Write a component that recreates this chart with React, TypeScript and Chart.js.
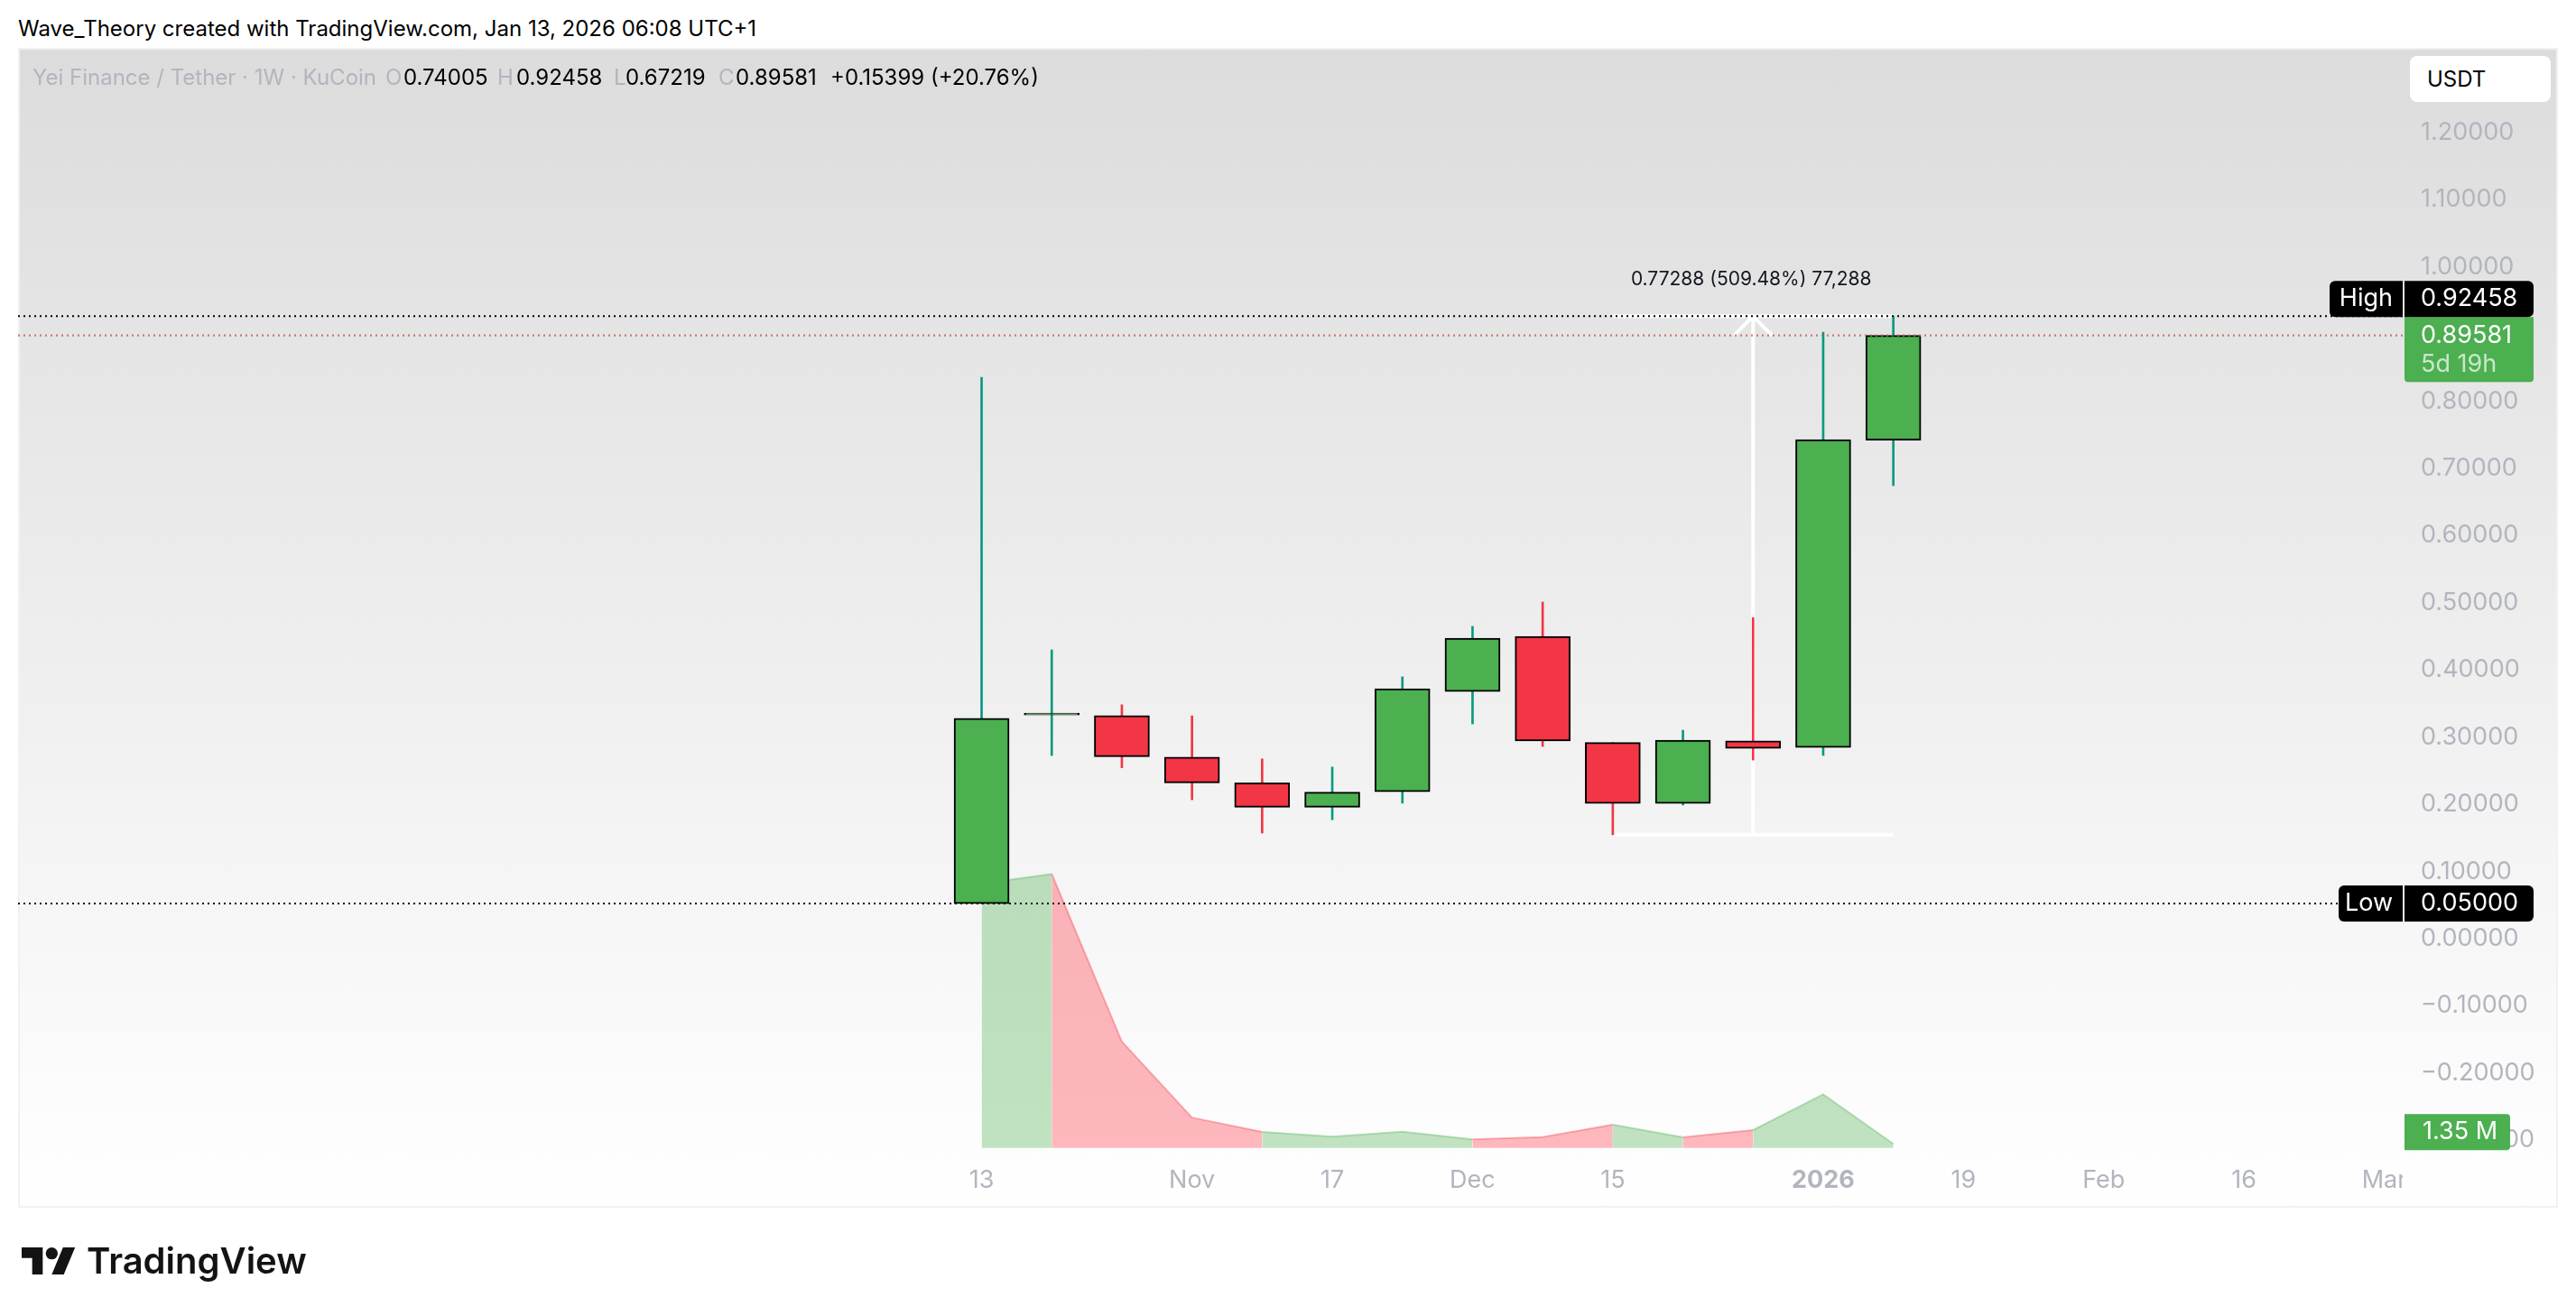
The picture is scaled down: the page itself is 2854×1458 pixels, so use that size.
import { useEffect, useRef } from "react";
import { Chart, registerables } from "chart.js";

Chart.register(...registerables);

const FONT = "Inter, 'Noto Sans', sans-serif";

// weekly candles, left to right
const opens = [0.05, 0.3308, 0.33, 0.268, 0.2298, 0.1935, 0.2166, 0.3658, 0.4478, 0.2899, 0.1992, 0.2922, 0.2825, 0.74005];
const highs = [0.8334, 0.4277, 0.346, 0.3295, 0.2654, 0.2533, 0.3876, 0.4627, 0.4989, 0.2899, 0.3081, 0.4757, 0.9006, 0.92458];
const lows = [0.05, 0.2705, 0.2522, 0.2046, 0.155, 0.1748, 0.1995, 0.3175, 0.2839, 0.1525, 0.1967, 0.2637, 0.2707, 0.67219];
const closes = [0.326, 0.3315, 0.2686, 0.2298, 0.1935, 0.2159, 0.37, 0.4451, 0.292, 0.1991, 0.2934, 0.2812, 0.7408, 0.89581];
// volume in millions
const volumes = [89.8, 93.1, 36.1, 10.3, 5.43, 3.8, 5.52, 2.88, 3.68, 7.88, 3.59, 6.04, 18.2, 1.35];

const priceTicks = [1.2, 1.1, 1.0, 0.9, 0.8, 0.7, 0.6, 0.5, 0.4, 0.3, 0.2, 0.1, 0, -0.1, -0.2, -0.3];
const timeTicks = [0, 3, 5, 7, 9, 12, 14, 16, 18, 20];
const timeLabels = ["13", "Nov", "17", "Dec", "15", "2026", "19", "Feb", "16", "Mar"];

const HIGH = 0.92458;
const LOW = 0.05;
const LAST = 0.89581;

const GREEN = "#4caf50";
const RED = "#f23645";

const isUp = (i: number) => closes[i] >= opens[i];

function roundBox(ctx: CanvasRenderingContext2D, x: number, y: number, w: number, h: number, fill: string, radii: number[]) {
  ctx.fillStyle = fill;
  ctx.beginPath();
  ctx.roundRect(x, y, w, h, radii);
  ctx.fill();
}

const labelsPlugin = {
  id: "priceLabels",
  afterDatasetsDraw(chart: any) {
    // the time axis is cut off where the price axis starts
    const { ctx, chartArea } = chart;
    ctx.clearRect(chartArea.right, chartArea.bottom, 12, 46);
  },
  afterDraw(chart: any) {
    const { ctx, scales } = chart;
    const yHigh = scales.y.getPixelForValue(HIGH);
    const yLow = scales.y.getPixelForValue(LOW);
    const yLast = scales.y.getPixelForValue(LAST);
    const yVol = scales.y.getPixelForValue(-0.2901);

    ctx.save();
    ctx.textBaseline = "middle";
    ctx.font = `27px ${FONT}`;

    // last price
    roundBox(ctx, 2664, yHigh + 1, 143, 72, GREEN, [0, 0, 4, 4]);
    ctx.textAlign = "left";
    ctx.fillStyle = "#ffffff";
    ctx.fillText("0.89581", 2682, yLast);
    ctx.fillStyle = "rgba(255,255,255,0.7)";
    ctx.fillText("5d 19h", 2682, yLast + 32);

    // high
    roundBox(ctx, 2581, yHigh - 39, 81, 40, "#000000", [6, 0, 0, 6]);
    roundBox(ctx, 2664, yHigh - 39, 143, 40, "#000000", [0, 6, 6, 0]);
    ctx.fillStyle = "#ffffff";
    ctx.textAlign = "right";
    ctx.fillText("High", 2651, yHigh - 19);
    ctx.textAlign = "left";
    ctx.fillText("0.92458", 2682, yHigh - 19);

    // low
    roundBox(ctx, 2591, yLow - 20, 71, 40, "#000000", [6, 0, 0, 6]);
    roundBox(ctx, 2664, yLow - 20, 143, 40, "#000000", [0, 6, 6, 0]);
    ctx.fillStyle = "#ffffff";
    ctx.textAlign = "right";
    ctx.fillText("Low", 2651, yLow);
    ctx.textAlign = "left";
    ctx.fillText("0.05000", 2682, yLow);

    // volume
    roundBox(ctx, 2664, yVol - 20, 117, 40, GREEN, [0, 4, 4, 0]);
    ctx.fillStyle = "#ffffff";
    ctx.fillText("1.35 M", 2684, yVol);

    // measure tool text
    ctx.font = `21px ${FONT}`;
    ctx.textAlign = "center";
    ctx.fillStyle = "#131722";
    ctx.fillText("0.77288 (509.48%) 77,288", scales.x.getPixelForValue(11) - 2, yHigh - 41);
    ctx.restore();
  },
};

export default function App() {
  const canvasRef = useRef<HTMLCanvasElement | null>(null);

  useEffect(() => {
    if (!canvasRef.current) return;
    const xMin = -13.739;
    const xMax = 20.263;
    const level = (v: number) => [
      { x: xMin, y: v },
      { x: xMax, y: v },
    ];
    const white = {
      type: "line" as const,
      borderColor: "#ffffff",
      borderWidth: 4,
      pointRadius: 0,
      order: 4,
      yAxisID: "y",
      xAxisID: "x",
    };
    const dotted = {
      type: "line" as const,
      borderWidth: 2,
      borderDash: [2, 4],
      pointRadius: 0,
      order: 0,
      yAxisID: "y",
      xAxisID: "x",
    };

    const chart = new Chart(canvasRef.current, {
      type: "bar",
      data: {
        datasets: [
          {
            type: "line",
            data: volumes.map((v, i) => ({ x: i, y: v })),
            yAxisID: "vol",
            xAxisID: "x",
            fill: { value: 0 },
            pointRadius: 0,
            borderWidth: 2,
            tension: 0,
            order: 5,
            segment: {
              borderColor: (c: any) => (isUp(c.p1DataIndex) ? "rgba(76,175,80,0.35)" : "rgba(242,54,69,0.35)"),
              backgroundColor: (c: any) => (isUp(c.p1DataIndex) ? "rgba(76,175,80,0.35)" : "rgba(255,54,69,0.35)"),
            },
          },
          { ...white, data: [{ x: 9, y: lows[9] }, { x: 13, y: lows[9] }] },
          { ...white, data: [{ x: 9, y: HIGH }, { x: 13, y: HIGH }] },
          { ...white, data: [{ x: 11, y: lows[9] }, { x: 11, y: HIGH }] },
          { ...white, data: [{ x: 10.73, y: LAST }, { x: 11, y: HIGH }, { x: 11.27, y: LAST }] },
          {
            type: "bar",
            data: highs.map((h, i) => ({ x: i, y: [lows[i], h] })),
            yAxisID: "y",
            xAxisID: "x",
            grouped: false,
            barThickness: 2,
            backgroundColor: opens.map((_, i) => (isUp(i) ? "#089981" : RED)),
            order: 3,
          },
          {
            type: "bar",
            data: opens.map((o, i) => ({ x: i, y: [o, closes[i]] })),
            yAxisID: "y",
            xAxisID: "x",
            grouped: false,
            barThickness: 61,
            minBarLength: 2,
            backgroundColor: opens.map((_, i) => (isUp(i) ? GREEN : RED)),
            borderColor: "#000000",
            borderWidth: 2,
            borderSkipped: false,
            order: 2,
          },
          { ...dotted, data: level(HIGH), borderColor: "#000000" },
          { ...dotted, data: level(LOW), borderColor: "#000000" },
          // the last price line is a red and a green dotted line laid one above the other
          { ...dotted, borderWidth: 1, data: level(LAST + 0.0007), borderColor: RED },
          { ...dotted, borderWidth: 1, data: level(LAST - 0.0007), borderColor: GREEN },
        ],
      } as any,
      options: {
        animation: false,
        responsive: false,
        devicePixelRatio: 1,
        layout: { padding: { left: 20, top: 53, right: 20, bottom: 120 } },
        plugins: { legend: { display: false }, tooltip: { enabled: false } },
        scales: {
          x: {
            type: "linear",
            offset: false,
            min: xMin,
            max: xMax,
            grid: { display: false },
            border: { display: false },
            afterFit: (scale: any) => {
              scale.height = 48;
            },
            afterBuildTicks: (scale: any) => {
              scale.ticks = timeTicks.map((value) => ({ value }));
            },
            ticks: {
              autoSkip: false,
              maxRotation: 0,
              padding: -6,
              color: "#b2b5be",
              font: (c: any) => ({ family: FONT, size: 27, weight: c.tick && c.tick.value === 12 ? 700 : 400 }),
              callback: (value: any) => timeLabels[timeTicks.indexOf(value)],
            },
          },
          y: {
            type: "linear",
            position: "right",
            min: -0.3382,
            max: 1.324,
            grid: { display: false, drawTicks: false },
            border: { display: false },
            afterFit: (scale: any) => {
              scale.width = 172;
            },
            afterBuildTicks: (scale: any) => {
              scale.ticks = priceTicks.map((value) => ({ value }));
            },
            ticks: {
              autoSkip: false,
              padding: 20,
              labelOffset: 1.5,
              crossAlign: "near",
              color: "#b2b5be",
              font: { family: FONT, size: 27 },
              callback: (value: any) => (value < 0 ? "\u2212" + Math.abs(value).toFixed(5) : Number(value).toFixed(5)),
            },
          },
          vol: {
            type: "linear",
            display: false,
            min: -5.614,
            max: 373.9,
          },
        },
      },
      plugins: [labelsPlugin],
    } as any);

    return () => chart.destroy();
  }, []);

  const gray = { color: "#b2b5be" };
  return (
    <div style={{ position: "absolute", left: 0, top: 0, width: 2854, height: 1458, background: "#fff", overflow: "hidden", fontFamily: FONT, color: "#000" }}>
      <div style={{ position: "absolute", left: 20, top: 17, fontSize: 24, lineHeight: "30px", whiteSpace: "nowrap" }}>
        Wave_Theory created with TradingView.com, Jan 13, 2026 06:08 UTC+1
      </div>
      <div
        style={{
          position: "absolute",
          left: 20,
          top: 53,
          width: 2814,
          height: 1285,
          boxSizing: "border-box",
          border: "2px solid #f0f1f3",
          background: "linear-gradient(#dcdcdc, #ffffff)",
        }}
      />
      <canvas ref={canvasRef} width={2854} height={1458} style={{ position: "absolute", left: 0, top: 0, width: 2854, height: 1458 }} />
      <div style={{ position: "absolute", left: 36, top: 71, fontSize: 24, lineHeight: "30px", whiteSpace: "nowrap" }}>
        <span style={gray}>Yei Finance / Tether · 1W · KuCoin</span>
        <span style={{ ...gray, position: "absolute", left: 391 }}>O</span>
        <span style={{ position: "absolute", left: 411 }}>0.74005</span>
        <span style={{ ...gray, position: "absolute", left: 515 }}>H</span>
        <span style={{ position: "absolute", left: 536 }}>0.92458</span>
        <span style={{ ...gray, position: "absolute", left: 644 }}>L</span>
        <span style={{ position: "absolute", left: 657 }}>0.67219</span>
        <span style={{ ...gray, position: "absolute", left: 760 }}>C</span>
        <span style={{ position: "absolute", left: 779 }}>0.89581</span>
        <span style={{ position: "absolute", left: 884 }}>+0.15399 (+20.76%)</span>
      </div>
      <div
        style={{
          position: "absolute",
          left: 2670,
          top: 62,
          width: 156,
          height: 51,
          background: "#fff",
          borderRadius: 8,
          fontSize: 24,
          lineHeight: "51px",
          paddingLeft: 19,
          boxSizing: "border-box",
        }}
      >
        USDT
      </div>
      <svg viewBox="0 4 36 18" style={{ position: "absolute", left: 24, top: 1382, width: 60, height: 30 }}>
        <path fill="#131313" d="M14 22H7V11H0V4h14v18zM28 22h-8l7.5-18h8L28 22z" />
        <circle fill="#131313" cx="20" cy="8" r="4" />
      </svg>
      <div style={{ position: "absolute", left: 96, top: 1372, fontSize: 40, lineHeight: "50px", fontWeight: 600, color: "#131313", whiteSpace: "nowrap" }}>
        TradingView
      </div>
    </div>
  );
}
